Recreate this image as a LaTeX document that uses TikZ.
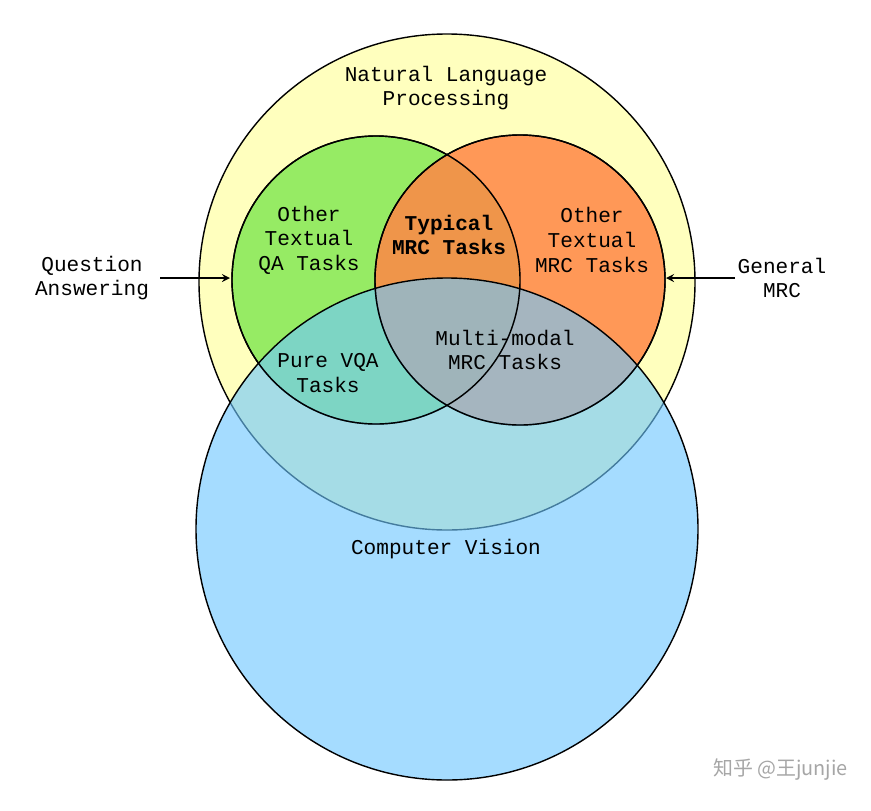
\documentclass[tikz,border=0pt]{standalone}
\usepackage{fontspec}
\setmainfont{Liberation Mono}
\newfontfamily\cjk{Noto Sans CJK SC}
\begin{document}
\begin{tikzpicture}[x=0.03cm,y=-0.03cm,
  lab/.style={font=\fontsize{18}{21}\selectfont, align=center, inner sep=0},
  circ/.style={draw=black, line width=1.2pt}]
\useasboundingbox (0,0) rectangle (871,810);
\fill[white] (0,0) rectangle (871,810);
\node[circ, circle, minimum size=496*0.03cm, fill={rgb,255:red,255;green,255;blue,190}] (nlp) at (447,282) {};
\node[circ, circle, minimum size=288*0.03cm, fill={rgb,255:red,150;green,235;blue,100}] (qa) at (376,280) {};
\node[circ, circle, minimum size=290*0.03cm, fill={rgb,255:red,255;green,135;blue,70}, fill opacity=0.85] (mrc) at (520,280) {};
\node[circ, circle, minimum size=502*0.03cm, fill={rgb,255:red,110;green,200;blue,255}, fill opacity=0.62] (cv) at (447,529) {};
\draw[line width=1.2pt] (qa.center) circle (144*0.03cm);
\draw[line width=1.2pt] (mrc.center) circle (145*0.03cm);
\node[lab] (tnlp) at (446,88) {Natural Language\\Processing};
\node[lab] (tqa) at (309,240) {Other\\Textual\\QA Tasks};
\node[lab] (tomrc) at (592,240) {Other\\Textual\\MRC Tasks};
\node[lab, font=\fontsize{18}{21}\selectfont\bfseries] (ttyp) at (449,235) {Typical\\MRC Tasks};
\node[lab] (tvqa) at (328,373) {Pure VQA\\Tasks};
\node[lab] (tmm) at (505,350) {Multi-modal\\MRC Tasks};
\node[lab] (tcv) at (446,549) {Computer Vision};
\node[lab] (tq) at (92,278) {Question\\Answering};
\node[lab] (tg) at (782,278) {General\\MRC};
\coordinate (a1) at (160,278); \coordinate (a2) at (230,278);
\coordinate (b1) at (735,278); \coordinate (b2) at (666,278);
\draw[-stealth, line width=2pt] (a1) -- (a2);
\draw[-stealth, line width=2pt] (b1) -- (b2);
\node[text=gray!70, font=\cjk\fontsize{17}{20}\selectfont, anchor=east] (wm) at (852,770) {知乎 @王junjie};
\end{tikzpicture}
\end{document}
